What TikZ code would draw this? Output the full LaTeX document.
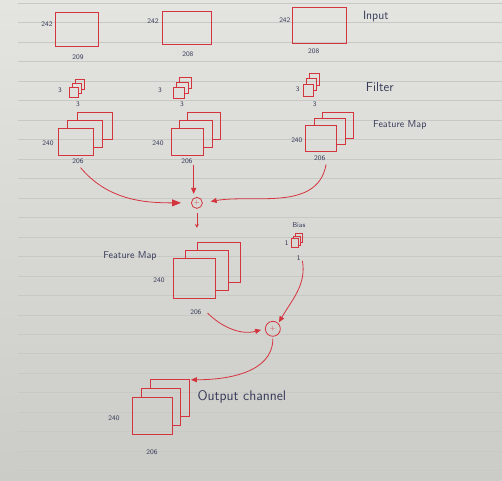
\documentclass[tikz,border=0pt]{standalone}
\usepackage{tikz}
\usetikzlibrary{calc}
\usetikzlibrary{arrows.meta}

\definecolor{penred}{RGB}{212,52,62}
\definecolor{ink}{RGB}{55,58,88}
\definecolor{paper}{RGB}{228,229,225}
\definecolor{paperdark}{RGB}{203,204,200}
\definecolor{rulegray}{RGB}{200,201,197}

\begin{document}
\begin{tikzpicture}[x=1pt, y=-1pt,
	pen/.style={draw=penred, line width=0.8pt},
	layer/.style={anchor=north west, inner sep=0pt, outer sep=0pt},
	input node/.style={pen, layer},
	dim/.style={text=ink, inner sep=1pt, font=\sffamily\fontsize{7}{8}\selectfont},
	note/.style={text=ink, inner sep=1pt, font=\sffamily\fontsize{12}{14}\selectfont},
	sum node/.style={pen, circle, inner sep=0pt, text=penred, font=\sffamily\fontsize{7}{8}\selectfont},
	flow/.style={penred, line width=0.8pt, -{Triangle[length=6pt, width=5pt]}},
	rule line/.style={draw=rulegray, line width=0.6pt}]
	
	% paper
	\shade[top color=paper, bottom color=paperdark] (0,0) rectangle (502,481);
	\foreach \k in {0,...,24}
		\draw[rule line] (18,3+19.5*\k) -- (502,3+19.5*\k);
	
	% input
	\node[input node, minimum width=43pt, minimum height=34pt] (in1) at (55,12) {};
	\node[input node, minimum width=50pt, minimum height=33pt] (in2) at (162,11) {};
	\node[input node, minimum width=54pt, minimum height=36pt] (in3) at (293,7) {};
	
	% stacks: name/x/y/width/height/dx/dy
	\foreach \s/\x/\y/\w/\h/\dx/\dy in {filta/69/87/9/10/3/4, filtb/173/87/12/11/3.5/5, filtc/304/84/10/12/3/5.5,
		fa/58/128/35/27/9.5/8, fb/171/128/33/27/8.5/8, fc/306/125/31/26/8.5/6.5,
		fm/173/259/43/40/12.5/8, bias/292/239/7/9/2/2.5, out/132/398/40/37/9/9} {
		\foreach \k in {0,1,2}
			\node[layer, minimum width=\w pt, minimum height=\h pt] (\s\k) at (\x+\k*\dx, \y-\k*\dy) {};
		\draw[pen] (\s0.north west) rectangle (\s0.south east);
		\foreach \k/\j in {1/0, 2/1}
			\draw[pen] (\s\k.west |- \s\j.north) -- (\s\k.north west) -- (\s\k.north east) -- (\s\k.south east) -- (\s\j.east |- \s\k.south);
	}
	
	\node[sum node, minimum size=11pt] (sum1) at (197,203) {+};
	\node[sum node, minimum size=15pt] (sum2) at (273,329) {+};
	\coordinate (sumout) at (197,228);
	
	% sizes
	\node[dim] (h1) at (47,24) {242};
	\node[dim] (w1in) at (78,57) {209};
	\node[dim] (h2) at (153,21) {242};
	\node[dim] (w2in) at (188,54) {208};
	\node[dim] (h3) at (285,20) {242};
	\node[dim] (w3in) at (314,51) {208};
	\node[dim] at (60,90) {3};
	\node[dim] at (78,104) {3};
	\node[dim] at (160,90) {3};
	\node[dim] at (182,104) {3};
	\node[dim] at (298,89) {3};
	\node[dim] at (315,104) {3};
	\node[dim] (fh1) at (48,143) {240};
	\node[dim] (w1) at (78,161) {206};
	\node[dim] (fh2) at (158,143) {240};
	\node[dim] (w2) at (187,161) {206};
	\node[dim] (fh3) at (297,140) {240};
	\node[dim] (w3) at (320,158) {206};
	\node[dim] (fmh) at (159,280) {240};
	\node[dim] (wm) at (196,312) {206};
	\node[dim] (b1) at (287,243) {1};
	\node[dim] (b2) at (299,258) {1};
	\node[dim] (oh) at (114,418) {240};
	\node[dim] (ow) at (152,452) {206};
	
	% names
	\node[note] (input) at (376,17) {Input};
	\node[note, font=\sffamily\fontsize{13}{15}\selectfont] (filter) at (380,87) {Filter};
	\node[note, font=\sffamily\fontsize{10}{12}\selectfont] (fmap) at (400,125) {Feature Map};
	\node[note, font=\sffamily\fontsize{10}{12}\selectfont] (fmap2) at (130,256) {Feature Map};
	\node[note, font=\sffamily\fontsize{7}{8}\selectfont] (biasname) at (299,225) {Bias};
	\node[note, font=\sffamily\fontsize{14}{16}\selectfont] (output) at (242,397) {Output channel};
	
	% arrows
	\draw[flow, -{Triangle[length=9pt, width=7pt]}, shorten <=4pt, shorten >=10pt] (w1.south) to[out=-50, in=180] (sum1.west);
	\draw[flow, shorten >=3pt] (w2.south east) -- (w2.south east |- sum1.north);
	\draw[flow, shorten <=3pt, shorten >=8pt] (w3.south east) to[out=-100, in=10] (sum1.east);
	\draw[flow, -{Stealth[length=4pt, width=4pt]}, line width=0.6pt] (sum1.south) ++(0,4) -- (sumout);
	\draw[flow, shorten <=7pt, shorten >=4pt] (wm.north east) to[out=-45, in=195] (sum2.west);
	\draw[flow, shorten <=3pt, shorten >=1pt] (b2.east) to[out=-80, in=60] (sum2.north east);
	\draw[flow, shorten <=2pt, shorten >=1pt] (sum2.south) to[out=-90, in=0] (out2.north east);
\end{tikzpicture}
\end{document}
